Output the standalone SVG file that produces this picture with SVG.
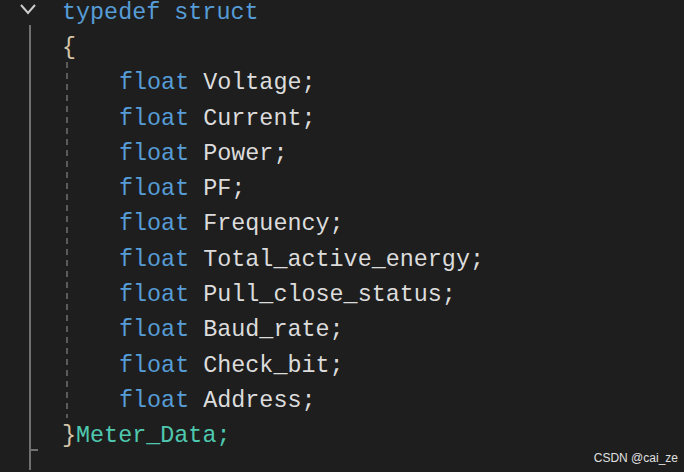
<svg xmlns="http://www.w3.org/2000/svg" width="684" height="472" viewBox="0 0 684 472">
<style>
text{font-family:"Liberation Mono","DejaVu Sans Mono",monospace;font-size:23.4px;white-space:pre}
.k{fill:#569cd6}.t{fill:#dcdcdc}.g{fill:#4ec9b0}.b{fill:#d4c4a8}
</style>
<rect width="684" height="472" fill="#1e1e1e"/>
<g id="guides" stroke="#707070" fill="none">
<path d="M21 5 L28 13 L35 5" stroke="#cccccc" stroke-width="2"/>
<path d="M30 25 V470 M30 450 H38" stroke-width="2"/>
<path d="M67 62 V418" stroke-width="1.5" stroke-dasharray="6,5"/>
</g>
<g id="code">
<text x="62" y="19" class="k">typedef struct</text>
<text x="62" y="54" class="b">{</text>
<text x="119" y="89"><tspan class="k">float</tspan><tspan class="t"> Voltage;</tspan></text>
<text x="119" y="125"><tspan class="k">float</tspan><tspan class="t"> Current;</tspan></text>
<text x="119" y="160"><tspan class="k">float</tspan><tspan class="t"> Power;</tspan></text>
<text x="119" y="195"><tspan class="k">float</tspan><tspan class="t"> PF;</tspan></text>
<text x="119" y="230"><tspan class="k">float</tspan><tspan class="t"> Frequency;</tspan></text>
<text x="119" y="266"><tspan class="k">float</tspan><tspan class="t"> Total_active_energy;</tspan></text>
<text x="119" y="301"><tspan class="k">float</tspan><tspan class="t"> Pull_close_status;</tspan></text>
<text x="119" y="336"><tspan class="k">float</tspan><tspan class="t"> Baud_rate;</tspan></text>
<text x="119" y="372"><tspan class="k">float</tspan><tspan class="t"> Check_bit;</tspan></text>
<text x="119" y="407"><tspan class="k">float</tspan><tspan class="t"> Address;</tspan></text>
<text x="62" y="442"><tspan class="b">}</tspan><tspan class="g">Meter_Data;</tspan></text>
</g>
<text x="678" y="462" text-anchor="end" style="font-family:'Liberation Sans',sans-serif;font-size:12px" fill="#e0e0e0">CSDN @cai_ze</text>
</svg>
